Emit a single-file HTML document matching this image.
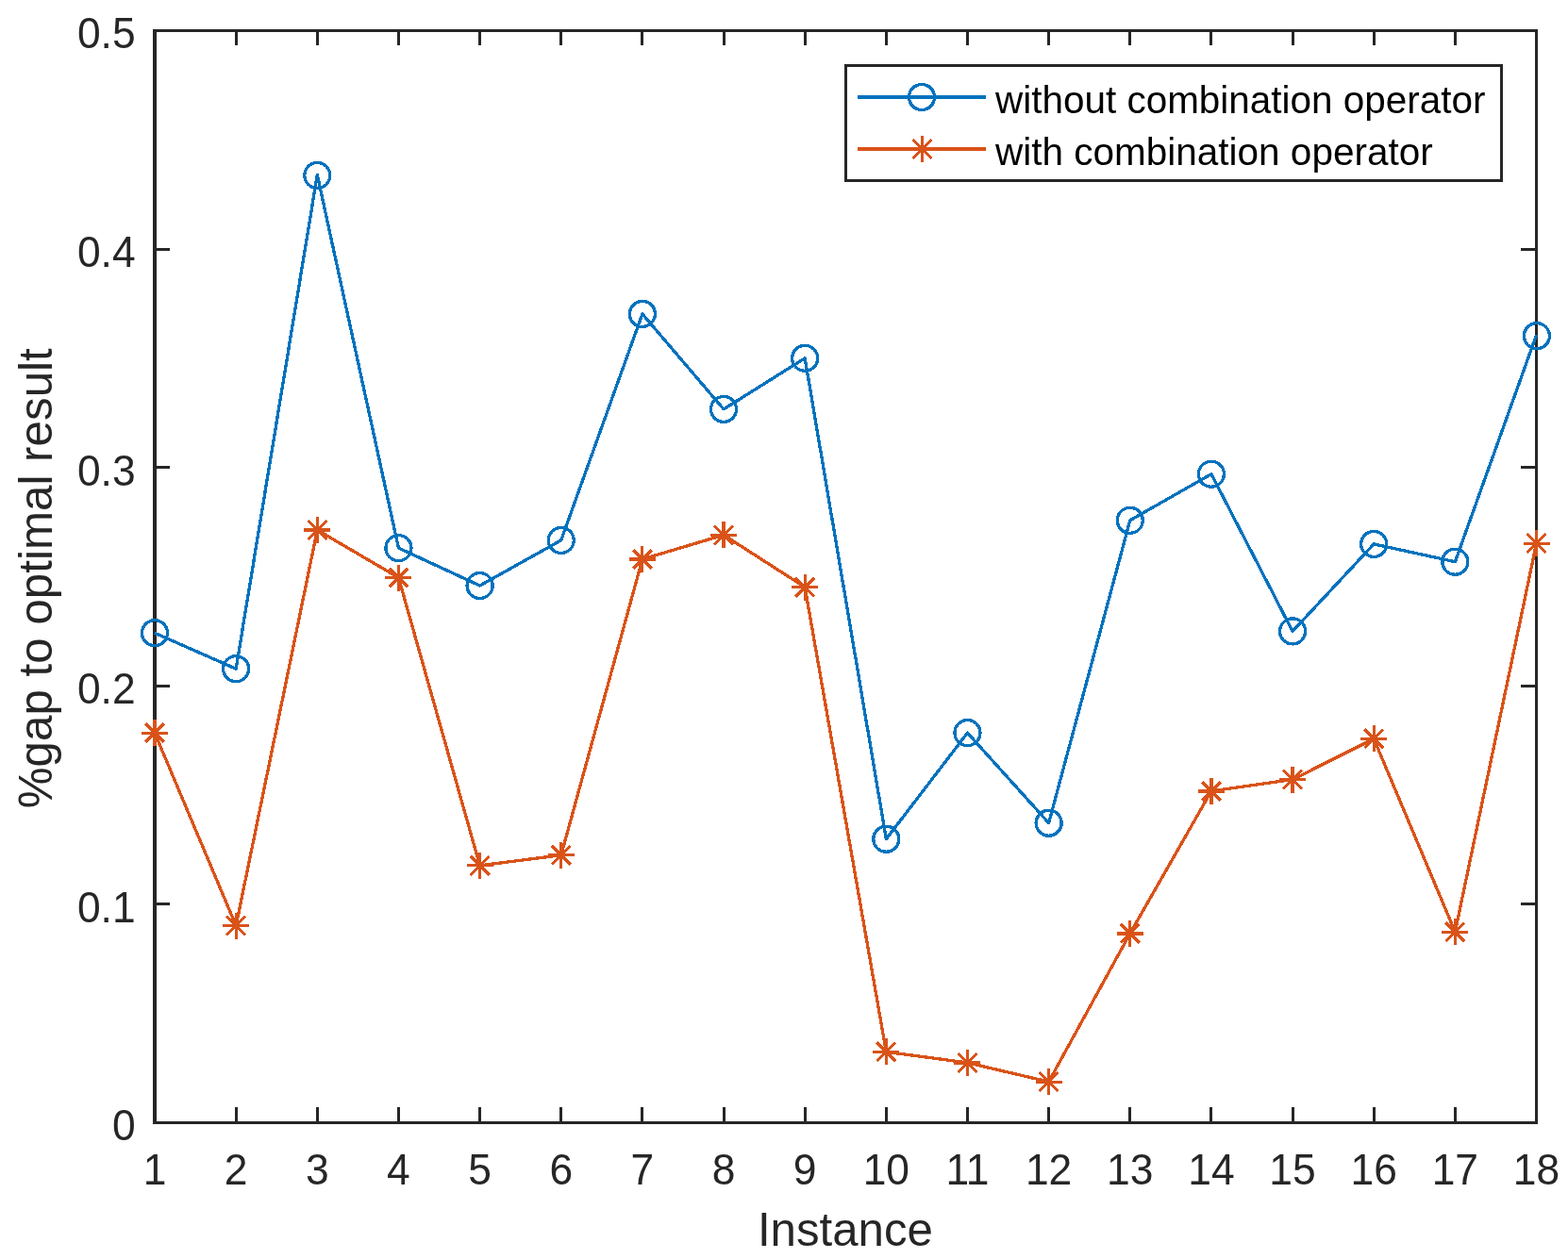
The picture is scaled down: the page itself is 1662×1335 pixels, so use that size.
<!DOCTYPE html><html><head><meta charset="utf-8"><title>plot</title><style>html,body{margin:0;padding:0;background:#fff;}svg{display:block;}text{font-family:"Liberation Sans",Arial,Helvetica,sans-serif;}</style></head><body>
<svg width="1662" height="1335" viewBox="0 0 1662 1335">
<rect x="0" y="0" width="1662" height="1335" fill="#fff"/>
<g fill="#262626" shape-rendering="crispEdges">
<rect x="162" y="31" width="4" height="1161"/>
<rect x="1627" y="31" width="3" height="1161"/>
<rect x="162" y="31" width="1468" height="3"/>
<rect x="162" y="1189" width="1468" height="3"/>
<rect x="162" y="1174" width="3" height="15"/>
<rect x="162" y="34" width="3" height="14"/>
<rect x="249" y="1174" width="3" height="15"/>
<rect x="249" y="34" width="3" height="14"/>
<rect x="335" y="1174" width="3" height="15"/>
<rect x="335" y="34" width="3" height="14"/>
<rect x="421" y="1174" width="3" height="15"/>
<rect x="421" y="34" width="3" height="14"/>
<rect x="507" y="1174" width="3" height="15"/>
<rect x="507" y="34" width="3" height="14"/>
<rect x="593" y="1174" width="3" height="15"/>
<rect x="593" y="34" width="3" height="14"/>
<rect x="679" y="1174" width="3" height="15"/>
<rect x="679" y="34" width="3" height="14"/>
<rect x="766" y="1174" width="3" height="15"/>
<rect x="766" y="34" width="3" height="14"/>
<rect x="852" y="1174" width="3" height="15"/>
<rect x="852" y="34" width="3" height="14"/>
<rect x="938" y="1174" width="3" height="15"/>
<rect x="938" y="34" width="3" height="14"/>
<rect x="1024" y="1174" width="3" height="15"/>
<rect x="1024" y="34" width="3" height="14"/>
<rect x="1110" y="1174" width="3" height="15"/>
<rect x="1110" y="34" width="3" height="14"/>
<rect x="1196" y="1174" width="3" height="15"/>
<rect x="1196" y="34" width="3" height="14"/>
<rect x="1282" y="1174" width="3" height="15"/>
<rect x="1282" y="34" width="3" height="14"/>
<rect x="1369" y="1174" width="3" height="15"/>
<rect x="1369" y="34" width="3" height="14"/>
<rect x="1455" y="1174" width="3" height="15"/>
<rect x="1455" y="34" width="3" height="14"/>
<rect x="1541" y="1174" width="3" height="15"/>
<rect x="1541" y="34" width="3" height="14"/>
<rect x="1627" y="1174" width="3" height="15"/>
<rect x="1627" y="34" width="3" height="14"/>
<rect x="166" y="957" width="14" height="3"/>
<rect x="1612" y="957" width="15" height="3"/>
<rect x="166" y="726" width="14" height="3"/>
<rect x="1612" y="726" width="15" height="3"/>
<rect x="166" y="494" width="14" height="3"/>
<rect x="1612" y="494" width="15" height="3"/>
<rect x="166" y="263" width="14" height="3"/>
<rect x="1612" y="263" width="15" height="3"/>
</g>
<g fill="#262626" font-size="46px">
<text x="164.00" y="1255.5" text-anchor="middle" textLength="24.69" lengthAdjust="spacingAndGlyphs">1</text>
<text x="250.15" y="1255.5" text-anchor="middle" textLength="24.69" lengthAdjust="spacingAndGlyphs">2</text>
<text x="336.29" y="1255.5" text-anchor="middle" textLength="24.69" lengthAdjust="spacingAndGlyphs">3</text>
<text x="422.44" y="1255.5" text-anchor="middle" textLength="24.69" lengthAdjust="spacingAndGlyphs">4</text>
<text x="508.59" y="1255.5" text-anchor="middle" textLength="24.69" lengthAdjust="spacingAndGlyphs">5</text>
<text x="594.74" y="1255.5" text-anchor="middle" textLength="24.69" lengthAdjust="spacingAndGlyphs">6</text>
<text x="680.88" y="1255.5" text-anchor="middle" textLength="24.69" lengthAdjust="spacingAndGlyphs">7</text>
<text x="767.03" y="1255.5" text-anchor="middle" textLength="24.69" lengthAdjust="spacingAndGlyphs">8</text>
<text x="853.18" y="1255.5" text-anchor="middle" textLength="24.69" lengthAdjust="spacingAndGlyphs">9</text>
<text x="939.32" y="1255.5" text-anchor="middle" textLength="49.38" lengthAdjust="spacingAndGlyphs">10</text>
<text x="1025.47" y="1255.5" text-anchor="middle" textLength="46.10" lengthAdjust="spacingAndGlyphs">11</text>
<text x="1111.62" y="1255.5" text-anchor="middle" textLength="49.38" lengthAdjust="spacingAndGlyphs">12</text>
<text x="1197.76" y="1255.5" text-anchor="middle" textLength="49.38" lengthAdjust="spacingAndGlyphs">13</text>
<text x="1283.91" y="1255.5" text-anchor="middle" textLength="49.38" lengthAdjust="spacingAndGlyphs">14</text>
<text x="1370.06" y="1255.5" text-anchor="middle" textLength="49.38" lengthAdjust="spacingAndGlyphs">15</text>
<text x="1456.21" y="1255.5" text-anchor="middle" textLength="49.38" lengthAdjust="spacingAndGlyphs">16</text>
<text x="1542.35" y="1255.5" text-anchor="middle" textLength="49.38" lengthAdjust="spacingAndGlyphs">17</text>
<text x="1628.50" y="1255.5" text-anchor="middle" textLength="49.38" lengthAdjust="spacingAndGlyphs">18</text>
<text x="143.6" y="1209.30" text-anchor="end" textLength="24.69" lengthAdjust="spacingAndGlyphs">0</text>
<text x="143.6" y="977.70" text-anchor="end" textLength="61.71" lengthAdjust="spacingAndGlyphs">0.1</text>
<text x="143.6" y="746.10" text-anchor="end" textLength="61.71" lengthAdjust="spacingAndGlyphs">0.2</text>
<text x="143.6" y="514.50" text-anchor="end" textLength="61.71" lengthAdjust="spacingAndGlyphs">0.3</text>
<text x="143.6" y="282.90" text-anchor="end" textLength="61.71" lengthAdjust="spacingAndGlyphs">0.4</text>
<text x="143.6" y="51.30" text-anchor="end" textLength="61.71" lengthAdjust="spacingAndGlyphs">0.5</text>
</g>
<text x="895.95" y="1321" text-anchor="middle" font-size="50.6px" fill="#262626" textLength="186.1" lengthAdjust="spacingAndGlyphs">Instance</text>
<text transform="translate(54.9 613.3) rotate(-90)" x="0" y="0" text-anchor="middle" font-size="50.6px" fill="#262626" textLength="488.1" lengthAdjust="spacingAndGlyphs">%gap to optimal result</text>
<polyline points="164.00,671.20 250.15,709.20 336.29,185.40 422.44,581.10 508.59,621.00 594.74,572.90 680.88,332.90 767.03,433.90 853.18,379.80 939.32,889.70 1025.47,777.10 1111.62,872.70 1197.76,551.80 1283.91,502.70 1370.06,669.40 1456.21,576.90 1542.35,595.70 1628.50,355.30" fill="none" stroke="#0072BD" stroke-width="3.3" stroke-linejoin="round" shape-rendering="crispEdges"/>
<polyline points="164.00,777.20 250.15,981.50 336.29,562.00 422.44,612.50 508.59,917.80 594.74,906.80 680.88,593.00 767.03,567.30 853.18,622.60 939.32,1115.40 1025.47,1126.90 1111.62,1147.10 1197.76,989.90 1283.91,838.90 1370.06,826.60 1456.21,783.40 1542.35,988.20 1628.50,576.20" fill="none" stroke="#D95319" stroke-width="3.3" stroke-linejoin="round" shape-rendering="crispEdges"/>
<g fill="none" stroke="#0072BD" stroke-width="3.3" shape-rendering="crispEdges">
<circle cx="164.00" cy="671.20" r="13.5"/>
<circle cx="250.15" cy="709.20" r="13.5"/>
<circle cx="336.29" cy="186.00" r="13.5"/>
<circle cx="422.44" cy="581.10" r="13.5"/>
<circle cx="508.59" cy="621.00" r="13.5"/>
<circle cx="594.74" cy="572.90" r="13.5"/>
<circle cx="680.88" cy="332.90" r="13.5"/>
<circle cx="767.03" cy="433.90" r="13.5"/>
<circle cx="853.18" cy="379.80" r="13.5"/>
<circle cx="939.32" cy="889.70" r="13.5"/>
<circle cx="1025.47" cy="777.10" r="13.5"/>
<circle cx="1111.62" cy="872.70" r="13.5"/>
<circle cx="1197.76" cy="551.80" r="13.5"/>
<circle cx="1283.91" cy="502.70" r="13.5"/>
<circle cx="1370.06" cy="669.40" r="13.5"/>
<circle cx="1456.21" cy="576.90" r="13.5"/>
<circle cx="1542.35" cy="595.70" r="13.5"/>
<circle cx="1628.90" cy="356.20" r="13.5"/>
</g>
<path d="M150.00 777.20H178.00M164.00 763.20V791.20M154.10 767.30L173.90 787.10M154.10 787.10L173.90 767.30M236.15 981.50H264.15M250.15 967.50V995.50M240.25 971.60L260.05 991.40M240.25 991.40L260.05 971.60M322.29 562.00H350.29M336.29 548.00V576.00M326.39 552.10L346.19 571.90M326.39 571.90L346.19 552.10M408.44 612.50H436.44M422.44 598.50V626.50M412.54 602.60L432.34 622.40M412.54 622.40L432.34 602.60M494.59 917.80H522.59M508.59 903.80V931.80M498.69 907.90L518.49 927.70M498.69 927.70L518.49 907.90M580.74 906.80H608.74M594.74 892.80V920.80M584.84 896.90L604.63 916.70M584.84 916.70L604.63 896.90M666.88 593.00H694.88M680.88 579.00V607.00M670.98 583.10L690.78 602.90M670.98 602.90L690.78 583.10M753.03 567.30H781.03M767.03 553.30V581.30M757.13 557.40L776.93 577.20M757.13 577.20L776.93 557.40M839.18 622.60H867.18M853.18 608.60V636.60M843.28 612.70L863.08 632.50M843.28 632.50L863.08 612.70M925.32 1115.40H953.32M939.32 1101.40V1129.40M929.42 1105.50L949.22 1125.30M929.42 1125.30L949.22 1105.50M1011.47 1126.90H1039.47M1025.47 1112.90V1140.90M1015.57 1117.00L1035.37 1136.80M1015.57 1136.80L1035.37 1117.00M1097.62 1147.10H1125.62M1111.62 1133.10V1161.10M1101.72 1137.20L1121.52 1157.00M1101.72 1157.00L1121.52 1137.20M1183.76 989.90H1211.76M1197.76 975.90V1003.90M1187.87 980.00L1207.66 999.80M1187.87 999.80L1207.66 980.00M1269.91 838.90H1297.91M1283.91 824.90V852.90M1274.01 829.00L1293.81 848.80M1274.01 848.80L1293.81 829.00M1356.06 826.60H1384.06M1370.06 812.60V840.60M1360.16 816.70L1379.96 836.50M1360.16 836.50L1379.96 816.70M1442.21 783.40H1470.21M1456.21 769.40V797.40M1446.31 773.50L1466.11 793.30M1446.31 793.30L1466.11 773.50M1528.35 988.20H1556.35M1542.35 974.20V1002.20M1532.45 978.30L1552.25 998.10M1532.45 998.10L1552.25 978.30M1614.50 576.20H1642.50M1628.50 562.20V590.20M1618.60 566.30L1638.40 586.10M1618.60 586.10L1638.40 566.30" fill="none" stroke="#D95319" stroke-width="3.2" shape-rendering="crispEdges"/>
<rect x="896.5" y="69.5" width="695" height="122" fill="#fff" stroke="#262626" stroke-width="3" shape-rendering="crispEdges"/>
<rect x="909" y="101" width="136" height="4" fill="#0072BD" shape-rendering="crispEdges"/>
<circle cx="977" cy="103" r="13.5" fill="none" stroke="#0072BD" stroke-width="3.3" shape-rendering="crispEdges"/>
<rect x="909" y="156" width="136" height="4" fill="#D95319" shape-rendering="crispEdges"/>
<path d="M963.30 158.00H991.30M977.30 144.00V172.00M967.40 148.10L987.20 167.90M967.40 167.90L987.20 148.10" fill="none" stroke="#D95319" stroke-width="3.2" shape-rendering="crispEdges"/>
<text x="1055" y="120" font-size="41.4px" fill="#000" textLength="519.5" lengthAdjust="spacingAndGlyphs">without combination operator</text>
<text x="1055" y="175" font-size="41.4px" fill="#000" textLength="463.7" lengthAdjust="spacingAndGlyphs">with combination operator</text>
</svg></body></html>
